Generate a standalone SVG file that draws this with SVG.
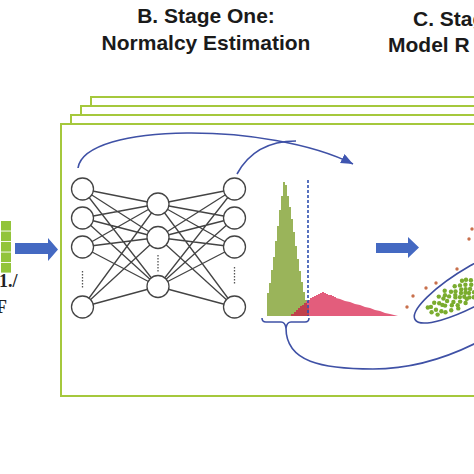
<svg xmlns="http://www.w3.org/2000/svg" width="474" height="474" viewBox="0 0 474 474">
<style>
.title{font-family:"Liberation Sans",Arial,sans-serif;font-weight:bold;font-size:21px;fill:#1a1a1a}
.side{font-family:"Liberation Serif","Times New Roman",serif;font-weight:bold;font-size:18px;fill:#222}
.frame{fill:none;stroke:#a5c83c;stroke-width:2}
.edge{stroke:#444;stroke-width:1.3}
.node{fill:#fff;stroke:#444;stroke-width:1.3}
.dots{stroke:#555;stroke-width:1.3;stroke-dasharray:1.5 1.5}
.arc{fill:none;stroke:#3f51a6;stroke-width:1.6}
.big{fill:#4469c2}
.g{fill:#7aac2e}
.o{fill:#c8704c}
</style>
<defs>
<marker id="ah" markerUnits="userSpaceOnUse" markerWidth="14" markerHeight="12" refX="12" refY="5" orient="auto">
<path d="M0,0 L12,5 L0,10 z" fill="#3f55b0"/>
</marker>
</defs>
<rect width="474" height="474" fill="#fff"/>

<g id="titles">
<text class="title" x="206" y="23" text-anchor="middle">B. Stage One:</text>
<text class="title" x="206" y="50" text-anchor="middle">Normalcy Estimation</text>
<text class="title" x="413" y="26">C. Stage</text>
<text class="title" x="388" y="52">Model R</text>
</g>

<g id="input">
<rect x="1" y="221" width="10" height="9.6" fill="#92c43a"/>
<rect x="1" y="231.5" width="10" height="9.6" fill="#92c43a"/>
<rect x="1" y="242" width="10" height="9.6" fill="#92c43a"/>
<rect x="1" y="252.5" width="10" height="9.6" fill="#92c43a"/>
<rect x="1" y="263" width="10" height="9.6" fill="#92c43a"/>
<text class="side" x="-1" y="287">1./</text>
<text class="side" x="-4" y="313">F</text>
</g>

<g id="frames">
<path class="frame" d="M476,97 H91 V106"/>
<path class="frame" d="M476,106 H81 V115"/>
<path class="frame" d="M476,115 H71 V124"/>
<path class="frame" d="M476,124 H61 V396 H476"/>
</g>

<g id="arrows">
<path class="big" d="M15,243 H48 V238 L58,249.5 L48,261 V254 H15 Z"/>
<path class="big" d="M376,243 H408 V237 L419,247.5 L408,258 V253 H376 Z"/>
</g>

<g id="connectors">
<path class="edge" d="M82.5,189 L158,204 M82.5,189 L158,237.5 M82.5,189 L158,286.5
M82.5,218 L158,204 M82.5,218 L158,237.5 M82.5,218 L158,286.5
M82.5,247 L158,204 M82.5,247 L158,237.5 M82.5,247 L158,286.5
M82.5,307 L158,204 M82.5,307 L158,237.5 M82.5,307 L158,286.5
M158,204 L234.5,189 M158,204 L234.5,218 M158,204 L234.5,247 M158,204 L234.5,307
M158,237.5 L234.5,189 M158,237.5 L234.5,218 M158,237.5 L234.5,247 M158,237.5 L234.5,307
M158,286.5 L234.5,189 M158,286.5 L234.5,218 M158,286.5 L234.5,247 M158,286.5 L234.5,307"/>
<path class="arc" d="M78,168 C85,122 270,122 353,164" marker-end="url(#ah)"/>
<path class="arc" d="M237,174 C250,150 272,141 296,141"/>
<path class="arc" d="M262,318 Q262,322 266,322 H281 Q285,322 286,328 Q287,322 291,322 H305 Q309,322 309,318"/>
<path class="arc" d="M286,328 C286,362 322,369 373,369 C412,369 446,358 476,343"/>
</g>

<g id="layer1">
<circle class="node" cx="82.5" cy="189" r="11"/>
<circle class="node" cx="82.5" cy="218" r="11"/>
<circle class="node" cx="82.5" cy="247" r="11"/>
<line class="dots" x1="82.5" y1="271" x2="82.5" y2="288"/>
<circle class="node" cx="82.5" cy="307" r="11"/>
</g>
<g id="layer2">
<circle class="node" cx="158" cy="204" r="11"/>
<circle class="node" cx="158" cy="237.5" r="11"/>
<line class="dots" x1="158" y1="255" x2="158" y2="272"/>
<circle class="node" cx="158" cy="286.5" r="11"/>
</g>
<g id="layer3">
<circle class="node" cx="234.5" cy="189" r="11"/>
<circle class="node" cx="234.5" cy="218" r="11"/>
<circle class="node" cx="234.5" cy="247" r="11"/>
<line class="dots" x1="234.5" y1="267" x2="234.5" y2="285"/>
<circle class="node" cx="234.5" cy="307" r="11"/>
</g>

<g id="histogram">
<path fill="#9ab45a" d="M267,316 V293 H269 V283 H271 V270 H273 V257 H275 V241 H277 V226 H279 V210 H281 V196 H283 V182 H285 V185 H287 V196 H289 V207 H291 V219 H293 V232 H295 V246 H297 V259 H299 V271 H301 V282 H303 V292 H305 V300 H307 V308 H309 V316 Z"/>
<path fill="#e35d7c" d="M291,316 V314 H294 V312 H296 V310 H298 V308 H300 V306 H302 V305 H304 V303 H306 V301 H308 V300 H310 V298 H312 V297 H314 V296 H316 V295 H318 V294 H320 V293 H322 V292 H324 V293 H326 V294 H328 V295 H332 V296 H334 V297 H336 V298 L340,299 L345,301 L350,302 L355,304 L360,305 L365,307 L370,308 L375,310 L380,311 L385,313 L390,314 L398,316 Z"/>
<path fill="#c0404c" d="M291,316 V314 H294 V312 H296 V310 H298 V308 H300 V306 H302 V305 H304 V303 H307 V308 H309 V316 Z"/>
<line x1="308" y1="180" x2="308" y2="316" stroke="#2f4fb0" stroke-width="1.6" stroke-dasharray="3 2"/>
</g>

<g id="scatter">
<ellipse cx="480" cy="282" rx="75" ry="19" transform="rotate(-30 480 282)" fill="none" stroke="#3d4ea0" stroke-width="1.6"/>
<g class="g">
<circle cx="436" cy="309.7" r="2.2"/><circle cx="434.2" cy="302.7" r="2.2"/><circle cx="441.4" cy="311.2" r="2.2"/><circle cx="439.2" cy="303.3" r="2.2"/>
<circle cx="445.5" cy="312.3" r="2.2"/><circle cx="438.8" cy="296.6" r="2.2"/><circle cx="445.1" cy="305.6" r="2.2"/><circle cx="443.4" cy="298.5" r="2.2"/>
<circle cx="451.2" cy="310.2" r="2.2"/><circle cx="447.1" cy="301" r="2.2"/><circle cx="451.8" cy="305.2" r="2.2"/><circle cx="444.7" cy="290.8" r="2.2"/>
<circle cx="449.1" cy="296.4" r="2.2"/><circle cx="453.4" cy="302" r="2.2"/><circle cx="457.7" cy="305.3" r="2.2"/><circle cx="451" cy="291.8" r="2.2"/>
<circle cx="455.4" cy="297.4" r="2.2"/><circle cx="455.3" cy="295.1" r="2.2"/><circle cx="460.1" cy="301.6" r="2.2"/><circle cx="455.5" cy="291.5" r="2.2"/>
<circle cx="459.9" cy="297.1" r="2.2"/><circle cx="454.7" cy="286.2" r="2.2"/><circle cx="465.6" cy="303" r="2.2"/><circle cx="461" cy="293" r="2.2"/>
<circle cx="464.3" cy="296.8" r="2.2"/><circle cx="461.2" cy="289.4" r="2.2"/><circle cx="460" cy="285.4" r="2.2"/><circle cx="465.4" cy="292.7" r="2.2"/>
<circle cx="469.3" cy="297.4" r="2.2"/><circle cx="465.6" cy="289.1" r="2.2"/><circle cx="469" cy="293" r="2.2"/><circle cx="465.4" cy="284.7" r="2.2"/>
<circle cx="473.7" cy="297.2" r="2.2"/><circle cx="470.1" cy="288.9" r="2.2"/><circle cx="466" cy="279.7" r="2.2"/><circle cx="474" cy="292.2" r="2.2"/>
<circle cx="471.2" cy="284.8" r="2.2"/><circle cx="470.9" cy="280.3" r="2.2"/><circle cx="442.4" cy="304.9" r="2.2"/><circle cx="445" cy="295.3" r="2.2"/>
<circle cx="458.3" cy="308.4" r="2.2"/><circle cx="466.7" cy="298.9" r="2.2"/><circle cx="462" cy="280.8" r="2.2"/><circle cx="430.9" cy="306.9" r="2.2"/>
<circle cx="437.6" cy="314.6" r="2.2"/><circle cx="431.6" cy="312.2" r="2.2"/><circle cx="427.8" cy="307.5" r="2.2"/>
</g>
<g class="o">
<circle cx="407" cy="307" r="1.7"/><circle cx="413" cy="296" r="1.7"/><circle cx="426" cy="288" r="1.7"/><circle cx="436" cy="283" r="1.7"/>
<circle cx="457" cy="269" r="1.7"/><circle cx="469" cy="239" r="1.7"/><circle cx="472" cy="229" r="1.7"/>
</g>
</g>
</svg>
